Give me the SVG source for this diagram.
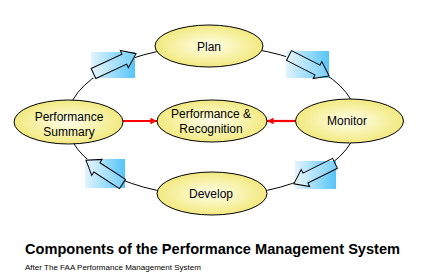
<svg xmlns="http://www.w3.org/2000/svg" width="421" height="277" viewBox="0 0 421 277">
<defs>
<radialGradient id="yel" cx="50%" cy="50%" r="50%">
<stop offset="0" stop-color="#ffffea"/>
<stop offset="1" stop-color="#f2e97f"/>
</radialGradient>
<linearGradient id="blu" x1="0" y1="0" x2="1" y2="0">
<stop offset="0" stop-color="#e2f4fd"/>
<stop offset="1" stop-color="#56c4f8"/>
</linearGradient>
<marker id="rh" viewBox="0 0 8 8" refX="8" refY="4" markerWidth="3" markerHeight="3" orient="auto" markerUnits="strokeWidth">
<path d="M0,0 L8,4 L0,8 Z" fill="#ff0000"/>
</marker>
<style>
.nd{fill:url(#yel);stroke:#000;stroke-width:1}
.tx{font-family:"Liberation Sans",Arial,sans-serif;font-size:12px;fill:#000;text-anchor:middle}
.bx{fill:url(#blu)}
.ar{fill:#ffffff;fill-opacity:0.2;stroke:#000;stroke-width:1;stroke-linejoin:miter}
.red{stroke:#ff0000;stroke-width:2.2;fill:none;marker-end:url(#rh)}
</style>
</defs>
<rect width="421" height="277" fill="#ffffff"/>
<g id="connectors">
<ellipse cx="212" cy="121" rx="145" ry="75" fill="none" stroke="#000" stroke-width="1"/>
<g id="arrow-tl"><rect class="bx" x="91" y="52" width="44" height="26"/><polygon class="ar" transform="translate(93.5,73.5) rotate(-25)" points="0,-5.5 34,-5.5 34,-9.5 47,0 34,9.5 34,5.5 0,5.5"/></g>
<g id="arrow-tr"><rect class="bx" x="286" y="51" width="43" height="27"/><polygon class="ar" transform="translate(289,55.5) rotate(27)" points="0,-5.5 32,-5.5 32,-9.5 45,0 32,9.5 32,5.5 0,5.5"/></g>
<g id="arrow-bl"><rect class="bx" x="85" y="159" width="40" height="29"/><polygon class="ar" transform="translate(122.5,184) rotate(-147)" points="0,-5.5 30.5,-5.5 30.5,-9.5 43.5,0 30.5,9.5 30.5,5.5 0,5.5"/></g>
<g id="arrow-br"><rect class="bx" x="295" y="161" width="41" height="28"/><polygon class="ar" transform="translate(335,163.3) rotate(153.5)" points="0,-5.5 33,-5.5 33,-9.5 46,0 33,9.5 33,5.5 0,5.5"/></g>
<line class="red" x1="123" y1="121" x2="157" y2="121"/>
<line class="red" x1="296" y1="121" x2="267" y2="121"/>
</g>
<g id="plan"><ellipse class="nd" cx="209" cy="46" rx="54" ry="21"/><text class="tx" x="209" y="51">Plan</text></g>
<g id="summary"><ellipse class="nd" cx="68.5" cy="122" rx="54.5" ry="22"/><text class="tx" x="69" y="121">Performance</text><text class="tx" x="69" y="136">Summary</text></g>
<g id="recognition"><ellipse class="nd" cx="212" cy="121" rx="55" ry="21"/><text class="tx" x="211" y="118">Performance &amp;</text><text class="tx" x="211" y="133">Recognition</text></g>
<g id="monitor"><ellipse class="nd" cx="349.5" cy="121" rx="54" ry="22"/><text class="tx" x="347" y="125">Monitor</text></g>
<g id="develop"><ellipse class="nd" cx="212" cy="193.5" rx="55" ry="21.5"/><text class="tx" x="211" y="198">Develop</text></g>
<text x="25" y="254" font-family="'Liberation Sans',Arial,sans-serif" font-size="15" font-weight="bold" textLength="375" lengthAdjust="spacingAndGlyphs">Components of the Performance Management System</text>
<text x="25" y="270" font-family="'Liberation Sans',Arial,sans-serif" font-size="8" textLength="176" lengthAdjust="spacingAndGlyphs">After The FAA Performance Management System</text>
</svg>
